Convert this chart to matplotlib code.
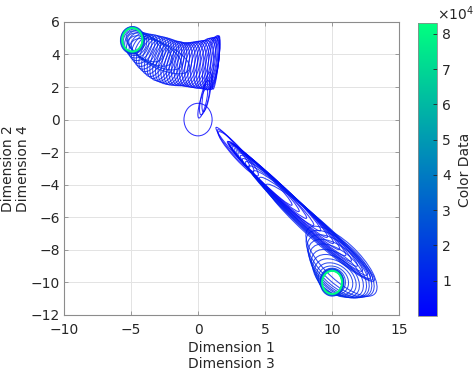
import matplotlib
matplotlib.use("Agg")
import matplotlib.pyplot as plt
from matplotlib.patches import Ellipse
from matplotlib.colors import Normalize
from matplotlib.cm import ScalarMappable

plt.rcParams['font.family'] = ['DejaVu Sans']

# ---- Trajectory A (Dimension 1 vs 2): loops ----
# centre x, centre y, major axis, minor axis, angle (deg), colour value
a_cx = [0.0, 0.35, 0.5, 0.65,
        1.35, 1.25, 1.15, 1.05, 0.95, 0.8, 0.65, 0.5,
        0.3, 0.1, -0.1, -0.3, -0.5, -0.7, -0.9, -1.1, -1.3, -1.5, -1.7, -1.9, -2.1, -2.3,
        -2.5, -2.7, -2.9, -3.1, -3.3, -3.5, -3.7, -3.9, -4.1, -4.3, -4.5, -4.65, -4.78, -4.86,
        -2.8, -3.2, -3.6, -4.0, -4.9, -4.92]
a_cy = [0.0, 1.0, 1.35, 1.7,
        3.5, 3.5, 3.5, 3.45, 3.45, 3.45, 3.45, 3.45,
        3.4, 3.4, 3.4, 3.4, 3.4, 3.4, 3.4, 3.4, 3.4, 3.42, 3.45, 3.48, 3.52, 3.58,
        3.64, 3.7, 3.78, 3.86, 3.95, 4.05, 4.15, 4.25, 4.36, 4.47, 4.58, 4.7, 4.8, 4.86,
        3.9, 4.1, 4.3, 4.5, 4.88, 4.9]
a_w = [2.1, 1.9, 2.2, 2.5,
       3.3, 3.35, 3.35, 3.3, 3.3, 3.25, 3.2, 3.15,
       3.05, 3.0, 2.95, 2.9, 2.85, 2.8, 2.75, 2.75, 2.75, 2.75, 2.8, 2.8, 2.8, 2.8,
       2.8, 2.8, 2.75, 2.7, 2.6, 2.5, 2.4, 2.25, 2.1, 1.95, 1.8, 1.7, 1.62, 1.58,
       4.6, 4.2, 3.6, 3.0, 1.78, 1.68]
a_h = [2.0, 0.45, 0.55, 0.5,
       0.35, 0.55, 0.75, 0.9, 1.05, 1.2, 1.35, 1.45,
       1.55, 1.6, 1.65, 1.65, 1.65, 1.6, 1.6, 1.6, 1.55, 1.55, 1.5, 1.5, 1.5, 1.45,
       1.45, 1.45, 1.4, 1.4, 1.4, 1.4, 1.4, 1.4, 1.4, 1.42, 1.45, 1.48, 1.5, 1.52,
       1.6, 1.5, 1.5, 1.45, 1.66, 1.6]
a_ang = [0, 72, 75, 78,
         82, 81, 80, 79, 78, 77, 76, 75,
         74, 74, 73, 73, 72, 72, 71, 71, 70, 70, 69, 68, 67, 66,
         65, 64, 62, 60, 58, 56, 54, 52, 48, 44, 38, 30, 20, 10,
         -20, -22, -25, -28, 10, 5]
a_c = [300, 600, 900, 1200,
       1500, 1800, 2100, 2400, 2700, 3000, 3300, 3600,
       3900, 4200, 4500, 4800, 5100, 5400, 5700, 6000, 6300, 6600, 6900, 7200, 7500, 7800,
       8100, 8400, 8700, 9000, 9300, 9600, 9900, 10200, 10500, 10800, 11100, 11400, 11700, 12000,
       12500, 13000, 13500, 14000, 15000, 16000]

# ---- Trajectory B (Dimension 3 vs 4) ----
b_cx = [2.6, 2.8, 3.0,
        4.6, 4.9, 5.2, 5.5, 5.8, 6.1, 6.4, 6.7, 7.0, 7.3, 7.6, 7.9, 8.2, 8.5, 8.8, 9.1,
        10.7, 10.6, 10.55, 10.5, 10.45, 10.4, 10.3, 10.25, 10.2, 10.1, 10.05, 10.02,
        10.0, 10.0]
b_cy = [-1.7, -1.9, -2.1,
        -3.3, -3.5, -3.75, -4.0, -4.2, -4.45, -4.7, -4.95, -5.2, -5.45, -5.7, -5.95, -6.2,
        -6.45, -6.7, -6.95,
        -8.7, -8.85, -9.0, -9.15, -9.3, -9.45, -9.6, -9.7, -9.8, -9.88, -9.94, -9.98,
        -10.0, -10.0]
b_w = [3.5, 3.7, 4.0,
       6.2, 6.8, 7.4, 8.0, 8.5, 9.0, 9.4, 9.8, 10.2, 10.5, 10.8, 11.0, 11.1, 10.9, 10.5, 10.0,
       6.4, 6.0, 5.6, 5.2, 4.8, 4.3, 3.8, 3.3, 2.8, 2.3, 1.9, 1.65,
       1.78, 1.7]
b_h = [0.45, 0.6, 0.7,
       0.6, 0.65, 0.7, 0.75, 0.8, 0.85, 0.85, 0.9, 0.95, 0.95, 1.0, 1.05, 1.1, 1.15, 1.2, 1.3,
       2.4, 2.55, 2.6, 2.55, 2.45, 2.3, 2.15, 2.0, 1.85, 1.72, 1.62, 1.55,
       1.68, 1.62]
b_ang = [-44, -43, -42,
         -39, -39, -38.5, -38.5, -38, -38, -38, -38, -38, -38, -37.5, -37.5, -37, -37, -36.5, -36,
         -37, -36, -35, -34, -33, -31, -29, -26, -22, -17, -10, -5,
         -8, -4]
b_c = [600, 900, 1200,
       1500, 2000, 2500, 3000, 3500, 4000, 4500, 5000, 5500, 6000, 6500, 7000, 7500, 8000,
       8500, 9000,
       9500, 10000, 10500, 11000, 11500, 12000, 12500, 13000, 13500, 14000, 14500, 15000,
       16000, 17000]

# ---- final limit cycles (drawn repeatedly, late colour values) ----
cyc_cx = [-4.9, -4.9, -4.9, 10.0, 10.0, 10.0]
cyc_cy = [4.9, 4.9, 4.9, -10.0, -10.0, -10.0]
cyc_w = [1.56, 1.52, 1.48, 1.54, 1.50, 1.46]
cyc_h = [1.50, 1.46, 1.42, 1.48, 1.44, 1.40]
cyc_c = [45000, 65000, 83000, 45000, 65000, 83000]

x_ticks = [-10, -5, 0, 5, 10, 15]
y_ticks = [-12, -10, -8, -6, -4, -2, 0, 2, 4, 6]
cb_ticks = [10000, 20000, 30000, 40000, 50000, 60000, 70000, 80000]
cb_labels = ['1', '2', '3', '4', '5', '6', '7', '8']

cmap = plt.get_cmap('winter')
norm = Normalize(vmin=1, vmax=83000)

fig = plt.figure(figsize=(4.74, 3.71), dpi=100)
ax = fig.add_axes([0.135, 0.151, 0.707, 0.790])

def add_loops(cx, cy, w, h, ang, c, lw=0.75, alpha=0.8):
    for i in range(len(cx)):
        e = Ellipse((cx[i], cy[i]), w[i], h[i], angle=ang[i], fill=False,
                    edgecolor=cmap(norm(c[i])), linewidth=lw, alpha=alpha)
        ax.add_patch(e)

add_loops(a_cx, a_cy, a_w, a_h, a_ang, a_c)
add_loops(b_cx, b_cy, b_w, b_h, b_ang, b_c)
add_loops(cyc_cx, cyc_cy, cyc_w, cyc_h, [0] * len(cyc_cx), cyc_c, lw=1.2, alpha=1.0)

ax.set_xlim(-10, 15)
ax.set_ylim(-12, 6)
ax.set_xticks(x_ticks)
ax.set_yticks(y_ticks)
ax.grid(True, color='#e3e3e3', linewidth=0.7)
ax.set_axisbelow(True)
for s in ax.spines.values():
    s.set_color('#8c8c8c')
    s.set_linewidth(0.8)
ax.tick_params(direction='in', length=3, width=0.6, color='#8c8c8c',
               labelsize=10, labelcolor='#262626', top=True, right=True, pad=3)
ax.tick_params(axis='x', pad=6)
ax.set_xlabel('Dimension 1\nDimension 3', fontsize=10, color='#262626', labelpad=3,
              linespacing=1.15)
ax.set_ylabel('Dimension 2\nDimension 4', fontsize=10, color='#262626',
              linespacing=1.15)
ax.yaxis.set_label_coords(-0.10, 0.5)

cax = fig.add_axes([0.881, 0.149, 0.0414, 0.788])
sm = ScalarMappable(norm=norm, cmap=cmap)
cb = fig.colorbar(sm, cax=cax)
cb.set_ticks(cb_ticks)
cb.set_ticklabels(cb_labels)
cb.outline.set_edgecolor('#8c8c8c')
cb.outline.set_linewidth(0.6)
cax.tick_params(direction='in', length=3, width=0.6, color='#262626',
                labelsize=10, labelcolor='#262626')
cb.set_label('Color Data', fontsize=10, color='#262626', labelpad=5)
fig.text(0.922, 0.962, r'$\times10^{4}$', fontsize=10, color='#262626',
         ha='left', va='center')

fig.savefig('out.png', dpi=100)
